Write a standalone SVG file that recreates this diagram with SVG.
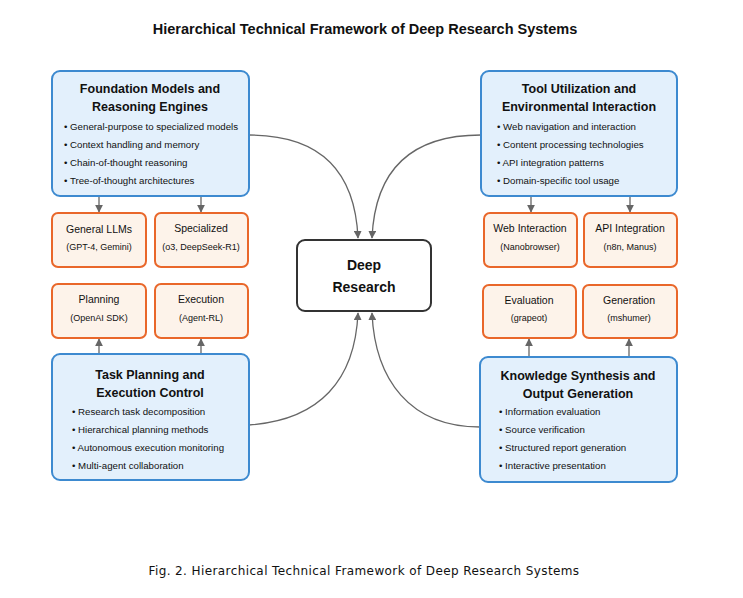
<svg xmlns="http://www.w3.org/2000/svg" width="743" height="598" viewBox="0 0 743 598">
<style>
text{font-family:"Liberation Sans",Arial,sans-serif;fill:#111}
.blue{fill:#e3f0fc;stroke:#3d8ad0;stroke-width:2}
.org{fill:#fdf3ea;stroke:#e9672a;stroke-width:2}
.h{font-size:12.5px;font-weight:bold;text-anchor:middle}
.b{font-size:9.7px}
.o1{font-size:10.5px;text-anchor:middle}
.o2{font-size:9px;text-anchor:middle}
.c{fill:none;stroke:#666;stroke-width:1.3}
</style>
<defs><marker id="a" viewBox="0 0 10 10" refX="9" refY="5" markerWidth="8" markerHeight="8" markerUnits="userSpaceOnUse" orient="auto"><path d="M0,0L10,5L0,10z" fill="#666"/></marker></defs>
<rect width="743" height="598" fill="#fff"/>
<text x="365" y="34" style="font-size:14.5px;font-weight:bold" text-anchor="middle">Hierarchical Technical Framework of Deep Research Systems</text>
<g id="connectors">
<path class="c" d="M249,135 C320,135 355,170 358,238" marker-end="url(#a)"/>
<path class="c" d="M481,135 C410,135 375,170 372,238" marker-end="url(#a)"/>
<path class="c" d="M249,425 C320,420 355,380 358,313" marker-end="url(#a)"/>
<path class="c" d="M480,427 C410,427 375,380 372,313" marker-end="url(#a)"/>
<path class="c" d="M99,196V212" marker-end="url(#a)"/>
<path class="c" d="M201,196V212" marker-end="url(#a)"/>
<path class="c" d="M531,196V212" marker-end="url(#a)"/>
<path class="c" d="M630,196V212" marker-end="url(#a)"/>
<path class="c" d="M99,354V339" marker-end="url(#a)"/>
<path class="c" d="M201,354V339" marker-end="url(#a)"/>
<path class="c" d="M529,357V339" marker-end="url(#a)"/>
<path class="c" d="M629,357V339" marker-end="url(#a)"/>
</g>
<g id="foundation"><rect class="blue" x="52" y="71" width="197" height="125" rx="8"/>
<text class="h" x="150" y="93">Foundation Models and</text><text class="h" x="150" y="111">Reasoning Engines</text>
<text class="b" x="64" y="130">• General-purpose to specialized models</text>
<text class="b" x="64" y="148">• Context handling and memory</text>
<text class="b" x="64" y="166">• Chain-of-thought reasoning</text>
<text class="b" x="64" y="184">• Tree-of-thought architectures</text></g>
<g id="tool"><rect class="blue" x="481" y="71" width="196" height="125" rx="8"/>
<text class="h" x="579" y="93">Tool Utilization and</text><text class="h" x="579" y="111">Environmental Interaction</text>
<text class="b" x="497" y="130">• Web navigation and interaction</text>
<text class="b" x="497" y="148">• Content processing technologies</text>
<text class="b" x="497" y="166">• API integration patterns</text>
<text class="b" x="497" y="184">• Domain-specific tool usage</text></g>
<g id="task"><rect class="blue" x="52" y="354" width="197" height="126" rx="8"/>
<text class="h" x="150" y="379">Task Planning and</text><text class="h" x="150" y="397">Execution Control</text>
<text class="b" x="72" y="415">• Research task decomposition</text>
<text class="b" x="72" y="433">• Hierarchical planning methods</text>
<text class="b" x="72" y="451">• Autonomous execution monitoring</text>
<text class="b" x="72" y="469">• Multi-agent collaboration</text></g>
<g id="knowledge"><rect class="blue" x="480" y="357" width="197" height="125" rx="8"/>
<text class="h" x="578" y="380">Knowledge Synthesis and</text><text class="h" x="578" y="398">Output Generation</text>
<text class="b" x="499" y="415">• Information evaluation</text>
<text class="b" x="499" y="433">• Source verification</text>
<text class="b" x="499" y="451">• Structured report generation</text>
<text class="b" x="499" y="469">• Interactive presentation</text></g>
<g id="deep"><rect x="297" y="240" width="134" height="71" rx="8" fill="#fff" stroke="#333" stroke-width="2"/>
<text class="h" x="364" y="270" style="font-size:14px">Deep</text><text class="h" x="364" y="292" style="font-size:14px">Research</text></g>
<g id="llms"><rect class="org" x="52" y="213" width="94" height="54" rx="6"/><text class="o1" x="99" y="233">General LLMs</text><text class="o2" x="99" y="250">(GPT-4, Gemini)</text></g>
<g id="specialized"><rect class="org" x="155" y="213" width="93" height="54" rx="6"/><text class="o1" x="201" y="232">Specialized</text><text class="o2" x="201" y="250">(o3, DeepSeek-R1)</text></g>
<g id="planning"><rect class="org" x="52" y="284" width="94" height="54" rx="6"/><text class="o1" x="99" y="303">Planning</text><text class="o2" x="99" y="321">(OpenAI SDK)</text></g>
<g id="execution"><rect class="org" x="155" y="284" width="93" height="54" rx="6"/><text class="o1" x="201" y="303">Execution</text><text class="o2" x="201" y="321">(Agent-RL)</text></g>
<g id="web"><rect class="org" x="484" y="213" width="93" height="54" rx="6"/><text class="o1" x="530" y="232">Web Interaction</text><text class="o2" x="530" y="250">(Nanobrowser)</text></g>
<g id="api"><rect class="org" x="584" y="213" width="93" height="54" rx="6"/><text class="o1" x="630" y="232">API Integration</text><text class="o2" x="630" y="250">(n8n, Manus)</text></g>
<g id="evaluation"><rect class="org" x="483" y="285" width="93" height="53" rx="6"/><text class="o1" x="529" y="304">Evaluation</text><text class="o2" x="529" y="321">(grapeot)</text></g>
<g id="generation"><rect class="org" x="583" y="285" width="94" height="53" rx="6"/><text class="o1" x="629" y="304">Generation</text><text class="o2" x="629" y="321">(mshumer)</text></g>
<text x="364" y="575" text-anchor="middle" style="font-family:'DejaVu Sans',sans-serif;font-size:12px;letter-spacing:0.4px">Fig. 2.  Hierarchical Technical Framework of Deep Research Systems</text>
</svg>
